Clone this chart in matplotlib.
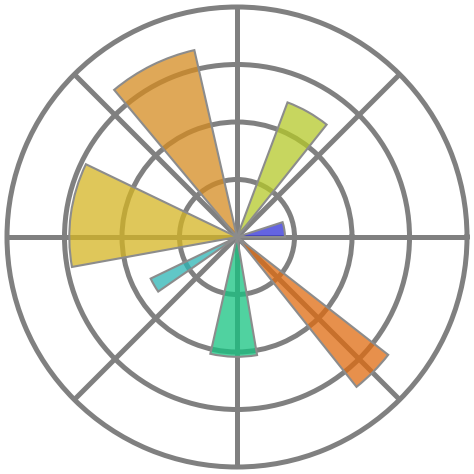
import matplotlib
matplotlib.use("Agg")
import matplotlib.pyplot as plt
import numpy as np

# bar data (7 wedges, starting angles evenly spaced)
n_bars = 7
radii = [2, 6, 8, 7, 4, 5, 8]
width_frac = [0.4, 0.4, 0.6, 0.8, 0.2, 0.5, 0.3]   # fraction of pi/4
bar_colors = ["#3030d7", "#b5c929", "#d58b20", "#d5b523",
              "#2bb5b5", "#15c380", "#e06b10"]
rgrid = [2.4, 4.8, 7.2]
rmax = 9.6

theta = np.arange(n_bars) * 2 * np.pi / n_bars
widths = np.pi / 4 * np.array(width_frac)

fig = plt.figure(figsize=(4.74, 4.74), dpi=100)
s = 7 / 474
ax = fig.add_axes([s, s, 1 - 2 * s, 1 - 2 * s], projection="polar")
ax.set_axisbelow(True)

bars = ax.bar(theta, radii, width=widths, bottom=0.0, align="edge",
              edgecolor="0.55", lw=1.5)
for c, bar in zip(bar_colors, bars):
    bar.set_facecolor(matplotlib.colors.to_rgba(c, 0.75))

ax.grid(lw=3.6, color="0.5")
ax.set_rmax(rmax)
ax.set_yticks(rgrid)
ax.set_xticks(np.arange(8) * np.pi / 4)
ax.tick_params(labelbottom=False, labeltop=False,
               labelleft=False, labelright=False)
ax.spines["polar"].set_color("0.5")
ax.spines["polar"].set_linewidth(3.6)

fig.savefig("out.png", dpi=100)
